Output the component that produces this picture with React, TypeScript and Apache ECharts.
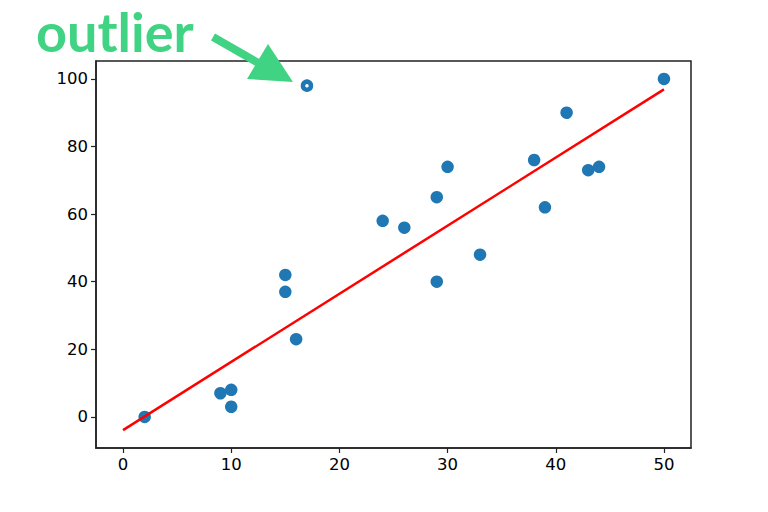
import React, { useEffect, useRef } from "react";
import * as echarts from "echarts";

const xValues = [2, 9, 10, 10, 15, 15, 16, 24, 26, 29, 29, 30, 33, 38, 39, 41, 43, 44, 50];
const yValues = [0, 7, 8, 3, 42, 37, 23, 58, 56, 65, 40, 74, 48, 76, 62, 90, 73, 74, 100];
const outlierPoint = [17, 98];
const fitLineX = [0, 50];
const fitLineY = [-3.9, 96.9];
const xTicks = [0, 10, 20, 30, 40, 50];
const yTicks = [0, 20, 40, 60, 80, 100];
const annotationText = "outlier";

export default function App() {
  const ref = useRef<HTMLDivElement>(null);
  useEffect(() => {
    document.body.style.margin = "0";
    const chart = echarts.init(ref.current!, null, { renderer: "svg" });
    const green = "#41d384";
    const axisText = { color: "#000", fontSize: 16.5, fontFamily: "DejaVu Sans" };
    chart.setOption({
      animation: false,
      backgroundColor: "#fff",
      grid: {
        left: 96,
        right: 77,
        top: 61,
        bottom: 64,
        show: true,
        borderColor: "#222",
        borderWidth: 1.5,
        backgroundColor: "transparent",
      },
      xAxis: {
        type: "value",
        min: -2.5,
        max: 52.5,
        splitLine: { show: false },
        axisLine: { show: true, onZero: false, lineStyle: { color: "#222", width: 1.5 } },
        axisTick: { show: true, length: 5, customValues: xTicks, lineStyle: { color: "#222", width: 1.2 } },
        axisLabel: { ...axisText, margin: 8, customValues: xTicks },
      },
      yAxis: {
        type: "value",
        min: -9.2,
        max: 105.3,
        splitLine: { show: false },
        axisLine: { show: true, onZero: false, lineStyle: { color: "#222", width: 1.5 } },
        axisTick: { show: true, length: 5, customValues: yTicks, lineStyle: { color: "#222", width: 1.2 } },
        axisLabel: { ...axisText, margin: 8, customValues: yTicks },
      },
      series: [
        {
          type: "scatter",
          data: xValues.map((x, i) => [x, yValues[i]]),
          symbolSize: 12.5,
          itemStyle: { color: "#1f77b4", opacity: 1 },
          z: 3,
        },
        {
          type: "scatter",
          data: [outlierPoint],
          symbol: "circle",
          symbolSize: 8,
          itemStyle: { color: "#fff", borderColor: "#1f77b4", borderWidth: 4.5, opacity: 1 },
          z: 4,
        },
        {
          type: "line",
          data: fitLineX.map((x, i) => [x, fitLineY[i]]),
          showSymbol: false,
          symbol: "none",
          lineStyle: { color: "#ff0000", width: 2.5 },
          z: 5,
        },
      ],
      graphic: [
        {
          type: "text",
          left: 36,
          top: 4,
          style: {
            text: annotationText,
            fill: green,
            font: "bold 54px Lato",
          },
        },
        {
          type: "line",
          shape: { x1: 213, y1: 37, x2: 260, y2: 64 },
          style: { stroke: green, lineWidth: 8 },
        },
        {
          type: "polygon",
          shape: { points: [[268, 44], [247, 79], [293, 82]] },
          style: { fill: green },
        },
      ],
    });
    return () => chart.dispose();
  }, []);
  return <div ref={ref} style={{ width: 768, height: 512 }} />;
}
